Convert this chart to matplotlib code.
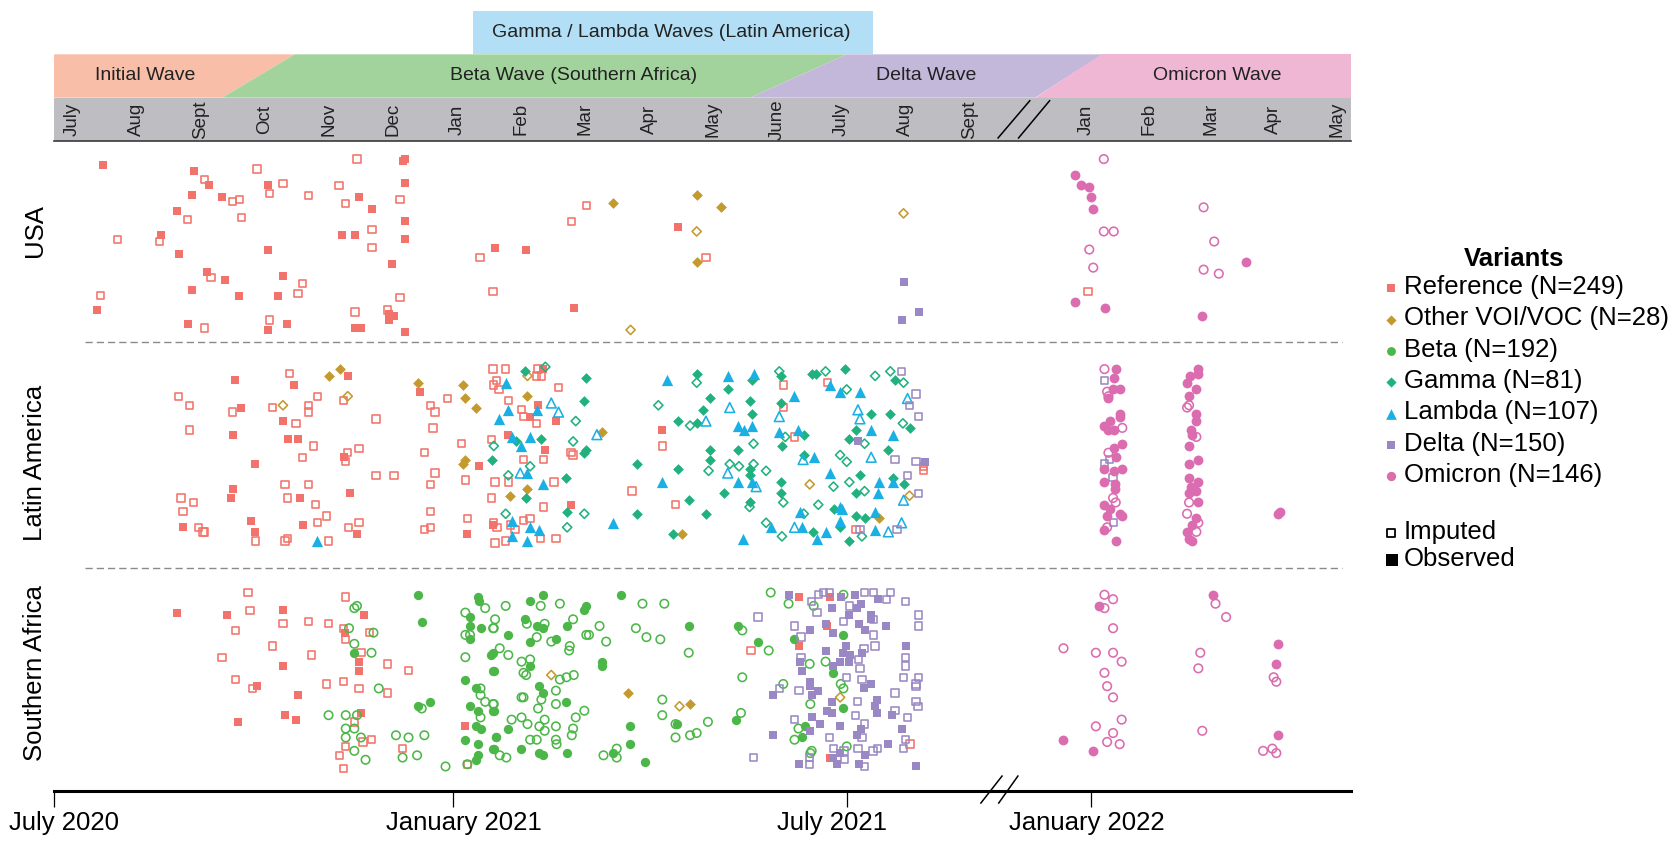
import numpy as np
import matplotlib
matplotlib.use("Agg")
import matplotlib.pyplot as plt
from matplotlib.patches import Polygon, Rectangle

plt.rcParams["font.family"] = ["Liberation Sans", "DejaVu Sans"]

# Each point: (t, y, observed)
#   t = months since July 2020 on the plotted axis (Oct-Dec 2021 cut out)
#   y = jitter position inside the region's row (0 bottom, 1 top)
#   observed = 1 filled marker, 0 imputed (open marker)

usa_reference = [
    (0.74, 0.88, 1), (0.97, 0.51, 0), (0.71, 0.23, 0), (0.65, 0.16, 1), (2.12, 0.85, 1), (2.28, 0.81, 0),
    (2.35, 0.78, 1), (2.09, 0.73, 1), (2.55, 0.72, 1), (2.71, 0.70, 0), (2.81, 0.71, 0), (1.86, 0.65, 1),
    (2.03, 0.61, 0), (2.84, 0.62, 0), (1.63, 0.53, 1), (1.60, 0.50, 0), (1.89, 0.44, 1), (2.32, 0.35, 1),
    (2.38, 0.32, 0), (2.59, 0.31, 1), (2.09, 0.26, 1), (2.81, 0.23, 1), (2.03, 0.09, 1), (2.28, 0.07, 0),
    (3.08, 0.86, 0), (3.24, 0.78, 1), (3.27, 0.74, 0), (3.47, 0.79, 0), (3.86, 0.73, 0), (3.24, 0.46, 1),
    (3.47, 0.33, 1), (3.77, 0.29, 0), (3.70, 0.24, 0), (3.40, 0.23, 1), (3.27, 0.11, 0), (3.53, 0.09, 1),
    (3.24, 0.06, 1), (4.59, 0.91, 0), (4.32, 0.78, 0), (4.62, 0.72, 1), (4.42, 0.69, 0), (4.82, 0.66, 1),
    (4.82, 0.56, 0), (4.36, 0.53, 1), (4.56, 0.53, 1), (4.82, 0.47, 0), (5.12, 0.39, 1), (4.56, 0.15, 0),
    (4.56, 0.07, 1), (4.65, 0.07, 1), (5.05, 0.16, 0), (5.08, 0.14, 1), (5.15, 0.13, 1), (5.08, 0.11, 1),
    (5.31, 0.91, 1), (5.28, 0.90, 1), (5.31, 0.79, 1), (5.24, 0.71, 0), (5.31, 0.60, 1), (5.31, 0.51, 1),
    (5.24, 0.22, 0), (5.31, 0.05, 1), (6.45, 0.42, 0), (6.68, 0.47, 1), (7.14, 0.46, 1), (6.65, 0.25, 0),
    (7.87, 0.17, 1), (7.84, 0.60, 0), (8.06, 0.68, 0), (9.44, 0.57, 1), (9.87, 0.42, 0), (15.65, 0.25, 0),
]
usa_other = [(8.46, 0.69, 1), (8.73, 0.06, 0), (9.73, 0.73, 1), (10.10, 0.67, 1), (9.73, 0.55, 0),
             (9.73, 0.40, 1), (12.86, 0.64, 0)]
usa_delta = [(12.86, 0.30, 1), (13.09, 0.15, 1), (12.83, 0.11, 1)]
usa_omicron = [
    (15.89, 0.91, 0), (15.45, 0.83, 1), (15.67, 0.77, 1), (15.54, 0.78, 1), (15.70, 0.72, 1), (15.73, 0.66, 1),
    (15.89, 0.55, 0), (16.04, 0.55, 0), (15.67, 0.46, 0), (15.73, 0.37, 0), (15.45, 0.20, 1), (15.91, 0.17, 1),
    (17.40, 0.67, 0), (17.56, 0.50, 0), (17.40, 0.36, 0), (17.63, 0.34, 0), (18.04, 0.40, 1), (17.37, 0.13, 1),
]

la_reference = [
    (1.89, 0.76, 0), (2.06, 0.72, 0), (2.06, 0.61, 0), (1.93, 0.31, 0), (2.12, 0.29, 0), (1.96, 0.25, 0),
    (1.96, 0.18, 1), (2.19, 0.18, 0), (2.26, 0.16, 0), (2.28, 0.16, 0), (2.75, 0.83, 1), (2.84, 0.71, 1),
    (2.71, 0.69, 0), (2.71, 0.59, 1), (3.05, 0.46, 1), (2.71, 0.35, 1), (2.68, 0.31, 1), (2.98, 0.21, 1),
    (3.05, 0.16, 1), (3.05, 0.12, 0), (3.57, 0.86, 0), (3.64, 0.81, 1), (3.31, 0.71, 0), (3.47, 0.65, 1),
    (3.67, 0.64, 0), (3.54, 0.57, 1), (3.70, 0.57, 1), (3.93, 0.54, 0), (3.77, 0.49, 0), (3.86, 0.72, 0),
    (3.86, 0.69, 0), (3.99, 0.76, 0), (4.46, 0.85, 1), (4.39, 0.74, 0), (4.39, 0.49, 1), (4.45, 0.51, 0),
    (4.42, 0.47, 0), (4.62, 0.53, 0), (4.49, 0.33, 1), (3.50, 0.37, 0), (3.86, 0.37, 0), (3.54, 0.31, 0),
    (3.73, 0.31, 1), (3.96, 0.28, 0), (4.13, 0.23, 0), (3.99, 0.20, 0), (3.77, 0.19, 1), (4.46, 0.18, 0),
    (4.62, 0.20, 0), (4.59, 0.15, 1), (4.16, 0.12, 0), (3.50, 0.12, 0), (3.54, 0.13, 0), (4.88, 0.66, 0),
    (4.88, 0.41, 0), (5.15, 0.41, 0), (5.54, 0.78, 1), (5.70, 0.72, 0), (5.77, 0.69, 0), (5.74, 0.62, 0),
    (5.96, 0.75, 0), (5.61, 0.51, 0), (6.17, 0.55, 0), (6.43, 0.45, 1), (5.77, 0.42, 0), (5.70, 0.37, 0),
    (6.23, 0.39, 0), (5.70, 0.25, 0), (5.61, 0.17, 0), (5.70, 0.18, 0), (6.26, 0.22, 0), (6.26, 0.15, 1),
    (6.65, 0.88, 0), (6.84, 0.88, 0), (7.31, 0.85, 0), (7.38, 0.85, 0), (7.41, 0.88, 1), (7.33, 0.88, 0),
    (6.70, 0.83, 0), (6.66, 0.81, 0), (6.74, 0.79, 0), (7.64, 0.80, 0), (6.88, 0.74, 0), (7.33, 0.72, 1),
    (7.08, 0.70, 0), (7.11, 0.67, 0), (7.21, 0.67, 1), (7.31, 0.64, 0), (7.60, 0.65, 1), (6.63, 0.57, 0),
    (6.88, 0.59, 1), (7.44, 0.52, 1), (7.83, 0.51, 0), (7.86, 0.50, 0), (7.11, 0.48, 0), (7.41, 0.48, 0),
    (6.68, 0.38, 0), (6.88, 0.38, 0), (7.57, 0.38, 0), (6.63, 0.31, 0), (7.41, 0.27, 0), (7.83, 0.28, 1),
    (6.66, 0.20, 0), (6.65, 0.19, 1), (6.71, 0.18, 0), (6.91, 0.19, 0), (6.98, 0.17, 0), (7.11, 0.21, 0),
    (7.21, 0.22, 0), (6.68, 0.11, 0), (6.84, 0.12, 0), (7.37, 0.13, 0), (7.60, 0.13, 0), (8.75, 0.34, 0),
    (9.21, 0.61, 1), (9.21, 0.54, 0), (9.41, 0.28, 0), (11.04, 0.81, 0), (11.04, 0.71, 0), (11.21, 0.58, 0),
    (11.71, 0.82, 0), (13.16, 0.45, 0), (13.16, 0.43, 0), (12.14, 0.17, 0),
]
la_other = [
    (3.47, 0.72, 0), (4.16, 0.85, 1), (4.33, 0.88, 1), (4.45, 0.76, 0), (5.51, 0.82, 1), (6.20, 0.81, 1),
    (6.23, 0.75, 1), (6.39, 0.71, 1), (6.23, 0.48, 1), (6.20, 0.46, 1), (7.17, 0.85, 0), (7.17, 0.76, 1),
    (8.30, 0.60, 1), (7.17, 0.35, 1), (6.91, 0.32, 1), (9.51, 0.15, 1), (11.44, 0.37, 0), (12.95, 0.32, 0),
    (12.49, 0.22, 1),
]
la_gamma = [
    (7.13, 0.87, 1), (7.44, 0.89, 0), (8.06, 0.84, 1), (8.03, 0.74, 1), (7.90, 0.65, 0), (6.66, 0.54, 0),
    (6.99, 0.56, 1), (7.37, 0.57, 1), (7.86, 0.56, 0), (8.03, 0.51, 1), (8.06, 0.52, 1), (6.63, 0.48, 1),
    (7.21, 0.45, 0), (6.88, 0.41, 0), (7.76, 0.40, 1), (7.15, 0.31, 1), (7.77, 0.25, 1), (8.03, 0.24, 0),
    (6.84, 0.24, 0), (7.77, 0.18, 0), (8.82, 0.46, 1), (8.82, 0.24, 1), (9.15, 0.72, 0), (9.44, 0.65, 1),
    (9.63, 0.63, 0), (9.73, 0.86, 1), (9.73, 0.82, 0), (9.83, 0.70, 1), (9.93, 0.75, 1), (9.74, 0.64, 1),
    (9.44, 0.44, 1), (9.61, 0.30, 1), (9.87, 0.24, 1), (9.37, 0.15, 1), (9.93, 0.52, 1), (9.93, 0.48, 1),
    (9.91, 0.43, 0), (10.14, 0.33, 1), (10.20, 0.79, 1), (10.53, 0.74, 1), (10.56, 0.68, 1), (10.56, 0.83, 1),
    (10.59, 0.55, 0), (10.36, 0.52, 1), (10.23, 0.46, 0), (10.37, 0.45, 0), (10.53, 0.44, 1), (10.59, 0.46, 0),
    (10.53, 0.41, 1), (10.78, 0.43, 0), (10.53, 0.29, 1), (10.53, 0.27, 0), (10.78, 0.20, 0), (11.02, 0.14, 0),
    (10.98, 0.87, 0), (11.01, 0.85, 1), (11.01, 0.73, 1), (11.35, 0.59, 1), (11.07, 0.58, 0), (11.02, 0.54, 1),
    (11.35, 0.50, 1), (11.00, 0.38, 1), (11.00, 0.33, 1), (11.04, 0.29, 0), (11.35, 0.24, 0), (11.49, 0.16, 1),
    (11.57, 0.28, 0), (11.80, 0.36, 0), (11.47, 0.86, 1), (11.54, 0.86, 1), (11.68, 0.87, 0), (11.98, 0.88, 1),
    (12.00, 0.79, 0), (12.43, 0.85, 0), (12.66, 0.87, 0), (12.73, 0.83, 1), (12.86, 0.82, 0), (12.37, 0.68, 1),
    (12.66, 0.68, 1), (12.85, 0.64, 0), (12.96, 0.62, 1), (12.14, 0.61, 1), (12.03, 0.57, 1), (12.27, 0.55, 0),
    (12.63, 0.52, 1), (11.90, 0.50, 0), (12.00, 0.47, 0), (12.20, 0.41, 1), (12.04, 0.38, 0), (12.86, 0.37, 1),
    (12.70, 0.40, 1), (12.27, 0.34, 0), (12.14, 0.33, 1), (11.81, 0.26, 1), (12.14, 0.23, 1), (12.28, 0.22, 1),
    (11.90, 0.18, 1), (12.23, 0.14, 0), (12.04, 0.12, 1),
]
la_lambda = [
    (3.99, 0.12, 1), (6.85, 0.82, 1), (6.88, 0.70, 1), (7.31, 0.70, 1), (7.53, 0.73, 0), (7.64, 0.69, 0),
    (6.74, 0.66, 1), (6.94, 0.58, 1), (7.07, 0.54, 1), (7.21, 0.58, 1), (8.22, 0.59, 0), (7.06, 0.42, 0),
    (7.17, 0.42, 1), (7.41, 0.37, 1), (6.94, 0.21, 1), (7.21, 0.18, 1), (7.34, 0.17, 1), (6.94, 0.14, 1),
    (7.17, 0.12, 1), (8.46, 0.20, 1), (9.28, 0.83, 1), (9.87, 0.65, 0), (9.21, 0.38, 1), (10.20, 0.85, 1),
    (10.23, 0.71, 0), (10.59, 0.86, 1), (10.36, 0.63, 1), (10.44, 0.61, 1), (10.56, 0.63, 1), (10.20, 0.42, 0),
    (10.36, 0.38, 1), (10.56, 0.38, 1), (10.63, 0.36, 0), (10.43, 0.13, 1), (10.85, 0.18, 1), (11.21, 0.76, 1),
    (10.98, 0.67, 0), (10.98, 0.60, 1), (11.27, 0.61, 1), (11.34, 0.48, 0), (11.50, 0.49, 1), (11.29, 0.25, 1),
    (11.32, 0.18, 1), (11.21, 0.18, 0), (11.55, 0.13, 1), (11.68, 0.16, 1), (11.74, 0.81, 1), (11.90, 0.78, 1),
    (12.20, 0.78, 1), (12.92, 0.75, 0), (12.17, 0.70, 0), (12.20, 0.66, 0), (12.36, 0.61, 1), (12.70, 0.59, 1),
    (12.37, 0.49, 0), (11.74, 0.42, 1), (12.49, 0.38, 1), (12.70, 0.38, 1), (12.47, 0.33, 1), (12.86, 0.30, 0),
    (11.90, 0.27, 1), (11.93, 0.26, 1), (12.43, 0.25, 1), (11.90, 0.21, 1), (12.83, 0.20, 0), (12.43, 0.17, 1),
    (12.63, 0.16, 0),
]
la_delta = [
    (12.83, 0.87, 0), (13.05, 0.77, 0), (12.95, 0.72, 0), (13.09, 0.67, 0), (12.17, 0.56, 1), (12.73, 0.48, 0),
    (13.05, 0.47, 0), (13.18, 0.47, 1), (12.92, 0.41, 0), (13.09, 0.33, 0), (12.76, 0.17, 0), (12.20, 0.17, 0),
    (15.90, 0.83, 0), (15.98, 0.48, 0), (15.90, 0.46, 0), (16.03, 0.40, 0), (16.04, 0.20, 0),
]
la_omicron = [
    (15.90, 0.88, 0), (16.07, 0.88, 1), (16.05, 0.84, 1), (16.03, 0.79, 1), (16.14, 0.79, 1), (15.94, 0.78, 0),
    (15.96, 0.75, 1), (15.96, 0.76, 0), (16.13, 0.68, 1), (16.14, 0.67, 1), (15.99, 0.65, 1), (15.90, 0.63, 1),
    (15.96, 0.61, 1), (16.04, 0.61, 1), (16.17, 0.62, 0), (16.17, 0.55, 1), (16.04, 0.53, 1), (15.96, 0.51, 0),
    (16.08, 0.49, 1), (15.90, 0.44, 1), (16.17, 0.44, 1), (16.04, 0.43, 1), (15.90, 0.38, 1), (16.06, 0.37, 1),
    (16.06, 0.35, 1), (16.03, 0.31, 0), (16.07, 0.29, 0), (15.90, 0.28, 1), (15.99, 0.26, 1), (16.14, 0.24, 1),
    (16.17, 0.23, 1), (15.94, 0.23, 1), (15.94, 0.18, 0), (15.90, 0.17, 1), (16.07, 0.12, 1),
    (17.32, 0.88, 1), (17.32, 0.86, 1), (17.19, 0.85, 1), (17.15, 0.82, 1), (17.29, 0.79, 1), (17.18, 0.76, 1),
    (17.18, 0.72, 0), (17.15, 0.71, 0), (17.29, 0.68, 1), (17.29, 0.65, 1), (17.21, 0.61, 1), (17.22, 0.59, 1),
    (17.29, 0.58, 0), (17.18, 0.54, 1), (17.18, 0.46, 1), (17.32, 0.48, 1), (17.18, 0.40, 1), (17.32, 0.38, 1),
    (17.21, 0.36, 1), (17.29, 0.34, 1), (17.18, 0.33, 1), (17.18, 0.29, 0), (17.32, 0.29, 1), (17.15, 0.24, 0),
    (17.29, 0.22, 1), (17.32, 0.20, 0), (17.22, 0.19, 1), (17.29, 0.16, 0), (17.15, 0.16, 1), (17.18, 0.13, 1),
    (17.22, 0.12, 1), (18.53, 0.24, 1), (18.55, 0.25, 1),
]

sa_reference = [
    (1.86, 0.80, 1), (2.62, 0.79, 1), (2.94, 0.89, 0), (2.97, 0.81, 0), (2.75, 0.72, 0), (3.31, 0.65, 0),
    (2.55, 0.60, 0), (3.47, 0.81, 1), (3.47, 0.75, 0), (3.86, 0.76, 0), (4.16, 0.75, 0), (3.90, 0.61, 0),
    (3.47, 0.56, 1), (2.75, 0.50, 0), (3.01, 0.46, 0), (3.08, 0.47, 1), (3.70, 0.43, 1), (2.79, 0.31, 1),
    (3.50, 0.34, 1), (3.67, 0.32, 1), (4.42, 0.87, 0), (4.69, 0.79, 1), (4.39, 0.73, 0), (4.41, 0.71, 1),
    (4.42, 0.68, 0), (4.78, 0.71, 0), (4.65, 0.62, 0), (4.62, 0.58, 1), (4.62, 0.54, 1), (5.05, 0.57, 0),
    (5.37, 0.54, 0), (4.13, 0.48, 0), (4.39, 0.49, 0), (4.62, 0.46, 0), (5.05, 0.44, 0), (4.65, 0.35, 1),
    (4.55, 0.31, 0), (4.68, 0.22, 0), (4.81, 0.23, 0), (4.42, 0.20, 0), (4.33, 0.16, 0), (4.39, 0.10, 0),
    (5.28, 0.19, 0), (6.23, 0.29, 1), (6.26, 0.12, 0), (10.55, 0.63, 0), (11.28, 0.87, 1), (11.74, 0.87, 1),
    (11.70, 0.74, 1), (11.28, 0.65, 1), (12.96, 0.21, 0), (11.74, 0.15, 1),
]
sa_other = [(7.53, 0.52, 0), (8.69, 0.44, 1), (9.47, 0.38, 0), (9.63, 0.39, 1), (11.90, 0.42, 0)]
sa_beta = [
    (4.55, 0.82, 0), (4.59, 0.83, 0), (4.47, 0.73, 0), (4.84, 0.71, 0), (4.55, 0.66, 0), (4.55, 0.62, 1),
    (4.81, 0.62, 0), (4.92, 0.46, 0), (4.16, 0.34, 0), (4.42, 0.34, 0), (4.59, 0.34, 0), (4.42, 0.28, 0),
    (4.55, 0.28, 0), (4.42, 0.24, 0), (4.65, 0.24, 0), (4.55, 0.18, 0), (4.72, 0.14, 0), (5.18, 0.25, 0),
    (5.37, 0.24, 0), (5.61, 0.25, 0), (5.28, 0.15, 0), (5.50, 0.16, 0), (5.93, 0.11, 0), (5.51, 0.88, 1),
    (5.57, 0.76, 1), (5.51, 0.38, 1), (5.57, 0.37, 0), (5.70, 0.40, 1), (6.42, 0.87, 1), (6.43, 0.85, 1),
    (6.53, 0.82, 0), (6.23, 0.80, 0), (6.30, 0.78, 1), (6.30, 0.74, 1), (6.46, 0.73, 1), (6.23, 0.70, 0),
    (6.30, 0.70, 0), (6.30, 0.68, 1), (6.23, 0.60, 0), (6.62, 0.61, 1), (6.66, 0.54, 1), (6.65, 0.73, 0),
    (6.23, 0.50, 1), (6.39, 0.46, 1), (6.46, 0.46, 0), (6.46, 0.43, 0), (6.53, 0.40, 0), (6.30, 0.38, 1),
    (6.42, 0.36, 1), (6.46, 0.33, 0), (6.66, 0.36, 1), (6.66, 0.39, 0), (6.39, 0.29, 1), (6.46, 0.28, 1),
    (6.23, 0.23, 1), (6.42, 0.21, 1), (6.69, 0.24, 1), (6.66, 0.19, 1), (6.42, 0.16, 1), (6.39, 0.14, 1),
    (6.26, 0.12, 0), (7.41, 0.88, 1), (7.21, 0.85, 1), (6.84, 0.83, 0), (7.37, 0.83, 0), (7.66, 0.84, 0),
    (8.06, 0.83, 1), (8.03, 0.81, 1), (6.68, 0.77, 0), (7.13, 0.77, 1), (7.31, 0.74, 1), (7.43, 0.75, 0),
    (7.41, 0.73, 1), (7.77, 0.74, 1), (7.86, 0.77, 0), (7.16, 0.75, 0), (6.66, 0.73, 0), (6.88, 0.70, 1),
    (7.31, 0.69, 0), (7.60, 0.68, 1), (7.53, 0.67, 0), (7.21, 0.67, 1), (8.06, 0.70, 0), (8.10, 0.70, 0),
    (8.26, 0.74, 0), (8.36, 0.67, 0), (7.81, 0.65, 0), (7.80, 0.63, 0), (6.75, 0.64, 0), (6.88, 0.61, 0),
    (6.65, 0.62, 1), (6.65, 0.54, 1), (7.08, 0.58, 0), (7.21, 0.59, 0), (7.21, 0.56, 1), (7.11, 0.53, 0),
    (7.15, 0.52, 0), (7.66, 0.50, 0), (7.76, 0.51, 0), (7.87, 0.52, 0), (8.29, 0.58, 1), (8.30, 0.56, 1),
    (7.35, 0.47, 1), (7.41, 0.44, 1), (7.60, 0.45, 0), (6.65, 0.39, 0), (6.65, 0.36, 1), (7.08, 0.42, 0),
    (7.11, 0.42, 0), (7.38, 0.41, 0), (7.60, 0.39, 0), (7.33, 0.37, 0), (7.76, 0.40, 1), (8.03, 0.36, 0),
    (6.93, 0.32, 0), (6.88, 0.28, 1), (7.08, 0.33, 0), (7.17, 0.30, 0), (7.35, 0.29, 0), (7.43, 0.32, 0),
    (7.43, 0.27, 0), (7.60, 0.29, 0), (7.90, 0.33, 0), (7.86, 0.28, 0), (7.84, 0.25, 0), (6.69, 0.24, 1),
    (7.21, 0.23, 0), (7.31, 0.23, 0), (7.60, 0.23, 0), (7.61, 0.21, 0), (6.65, 0.19, 1), (7.07, 0.19, 1),
    (7.35, 0.17, 1), (7.41, 0.16, 1), (7.77, 0.17, 1), (6.75, 0.16, 0), (6.85, 0.15, 0), (8.32, 0.16, 0),
    (8.52, 0.19, 0), (8.52, 0.15, 0), (8.46, 0.17, 1), (8.59, 0.88, 1), (8.81, 0.73, 0), (8.97, 0.69, 0),
    (9.18, 0.68, 0), (8.91, 0.84, 0), (9.24, 0.84, 0), (9.61, 0.74, 1), (9.61, 0.62, 0), (9.21, 0.41, 0),
    (9.21, 0.34, 0), (9.43, 0.30, 1), (9.41, 0.30, 0), (9.41, 0.24, 0), (9.63, 0.25, 0), (9.73, 0.26, 0),
    (9.90, 0.31, 0), (8.72, 0.29, 1), (8.72, 0.21, 1), (8.95, 0.13, 1), (10.35, 0.74, 1), (10.42, 0.72, 0),
    (10.85, 0.89, 0), (10.66, 0.67, 1), (10.82, 0.63, 0), (10.42, 0.51, 0), (10.40, 0.35, 0), (10.33, 0.32, 1),
    (11.12, 0.84, 0), (11.50, 0.83, 0), (11.95, 0.88, 0), (11.94, 0.70, 1), (11.21, 0.68, 1), (11.44, 0.57, 0),
    (11.68, 0.58, 0), (11.80, 0.53, 1), (11.04, 0.48, 0), (11.91, 0.48, 0), (11.95, 0.46, 0), (11.45, 0.39, 0),
    (11.94, 0.37, 1), (11.37, 0.29, 1), (11.27, 0.28, 0), (11.21, 0.23, 0), (11.32, 0.24, 1), (12.00, 0.20, 0),
    (11.47, 0.18, 0), (11.45, 0.17, 0),
]
sa_delta = [
    (10.66, 0.78, 0), (10.59, 0.15, 0), (11.12, 0.88, 1), (11.47, 0.85, 0), (11.57, 0.88, 0), (11.65, 0.89, 0),
    (11.74, 0.89, 0), (11.91, 0.87, 1), (12.13, 0.88, 1), (12.27, 0.89, 0), (12.41, 0.89, 0), (12.66, 0.89, 0),
    (12.60, 0.86, 0), (12.47, 0.86, 1), (12.89, 0.85, 0), (12.22, 0.84, 1), (12.04, 0.83, 0), (11.78, 0.82, 1),
    (11.55, 0.80, 0), (12.16, 0.82, 1), (12.04, 0.79, 1), (12.36, 0.79, 1), (13.09, 0.79, 0), (12.36, 0.77, 1),
    (12.41, 0.77, 0), (11.95, 0.76, 0), (12.18, 0.75, 1), (11.68, 0.75, 1), (12.59, 0.74, 1), (13.09, 0.74, 0),
    (11.21, 0.74, 0), (11.44, 0.72, 1), (11.80, 0.71, 1), (12.28, 0.72, 1), (12.41, 0.70, 0), (11.31, 0.69, 0),
    (11.99, 0.65, 1), (12.26, 0.64, 0), (12.43, 0.65, 0), (12.89, 0.65, 1), (11.68, 0.63, 1), (11.95, 0.62, 1),
    (12.23, 0.62, 1), (12.05, 0.61, 1), (12.89, 0.60, 0), (11.31, 0.60, 0), (11.29, 0.58, 1), (11.90, 0.58, 1),
    (12.03, 0.58, 1), (11.80, 0.56, 1), (12.18, 0.59, 0), (12.89, 0.56, 0), (12.20, 0.55, 0), (11.32, 0.54, 1),
    (12.00, 0.51, 0), (12.23, 0.50, 0), (13.09, 0.51, 0), (12.86, 0.51, 0), (12.36, 0.48, 1), (11.45, 0.49, 1),
    (11.45, 0.47, 1), (10.98, 0.46, 0), (10.88, 0.43, 1), (11.28, 0.45, 0), (11.56, 0.45, 1), (11.47, 0.43, 1),
    (13.05, 0.48, 0), (13.05, 0.47, 0), (12.26, 0.46, 1), (12.73, 0.44, 0), (11.78, 0.40, 1), (12.16, 0.40, 0),
    (12.46, 0.41, 1), (12.43, 0.38, 1), (13.05, 0.40, 0), (13.08, 0.38, 0), (11.70, 0.36, 1), (11.78, 0.35, 1),
    (12.13, 0.34, 0), (12.46, 0.35, 1), (12.73, 0.36, 0), (12.69, 0.34, 1), (12.92, 0.33, 0), (11.47, 0.33, 1),
    (11.21, 0.32, 0), (11.59, 0.30, 1), (11.44, 0.27, 1), (11.90, 0.29, 1), (12.27, 0.30, 0), (12.22, 0.28, 1),
    (12.16, 0.25, 1), (12.83, 0.28, 1), (12.23, 0.24, 0), (10.88, 0.25, 1), (11.74, 0.24, 0), (12.89, 0.23, 0),
    (12.63, 0.21, 1), (11.80, 0.19, 0), (11.96, 0.18, 0), (12.17, 0.19, 0), (12.40, 0.18, 0), (12.47, 0.19, 0),
    (12.86, 0.19, 0), (11.44, 0.15, 0), (11.44, 0.12, 0), (11.90, 0.17, 1), (11.97, 0.14, 0), (11.80, 0.15, 1),
    (12.27, 0.16, 1), (12.18, 0.12, 1), (12.27, 0.11, 0), (11.28, 0.12, 1), (13.05, 0.11, 1), (11.85, 0.12, 1),
]
sa_omicron = [
    (15.90, 0.88, 0), (16.03, 0.86, 0), (15.81, 0.83, 1), (15.90, 0.82, 0), (16.03, 0.73, 0), (15.28, 0.64, 0),
    (15.77, 0.62, 0), (16.03, 0.62, 0), (16.16, 0.58, 0), (15.90, 0.53, 0), (15.94, 0.47, 0), (16.03, 0.42, 0),
    (16.16, 0.32, 0), (15.77, 0.29, 0), (16.03, 0.26, 0), (15.94, 0.22, 0), (16.13, 0.21, 0), (15.28, 0.23, 1),
    (15.73, 0.18, 1), (17.54, 0.88, 1), (17.58, 0.84, 0), (17.74, 0.78, 0), (17.35, 0.62, 0), (17.32, 0.55, 0),
    (17.38, 0.27, 0), (18.53, 0.66, 1), (18.50, 0.57, 1), (18.46, 0.51, 0), (18.50, 0.49, 0), (18.53, 0.25, 1),
    (18.30, 0.18, 0), (18.44, 0.19, 0), (18.50, 0.17, 0),
]

variant_names = ["Reference", "Other VOI/VOC", "Beta", "Gamma", "Lambda", "Delta", "Omicron"]
variant_counts = [249, 28, 192, 81, 107, 150, 146]
region_names = ["USA", "Latin America", "Southern Africa"]

tick_pos = [0, 6.05, 12.0, 15.69]
tick_labels = ["July 2020", "January 2021", "July 2021", "January 2022"]
tick_label_pos = [0.16, 6.21, 11.77, 15.63]
months_a = ["July", "Aug", "Sept", "Oct", "Nov", "Dec", "Jan", "Feb", "Mar", "Apr", "May", "June",
            "July", "Aug", "Sept"]
months_b = ["Jan", "Feb", "Mar", "Apr", "May"]

wave_names = ["Initial Wave", "Beta Wave (Southern Africa)", "Delta Wave", "Omicron Wave"]
wave_bounds = [0, (2.55, 3.65), (10.54, 12.0), (14.85, 15.87), 19.63]
gamma_span = (6.35, 12.40)

# marker, color, filled size, open size
style = {
    "Reference": ("s", "#F2736B", 36, 28),
    "Other VOI/VOC": ("D", "#C49A2F", 30, 22),
    "Beta": ("o", "#4CB748", 45, 37),
    "Gamma": ("D", "#21B17F", 30, 22),
    "Lambda": ("^", "#1BB0E4", 66, 50),
    "Delta": ("s", "#9A88C4", 36, 28),
    "Omicron": ("o", "#DA6CAF", 50, 38),
}

W, H = 1681, 847
XMAX = 19.63
fig = plt.figure(figsize=(W / 100, H / 100), dpi=100)


def box(x0, y0, x1, y1):
    return [x0 / W, 1 - y1 / H, (x1 - x0) / W, (y1 - y0) / H]


def draw(ax, pts, variant):
    marker, color, s_fill, s_open = style[variant]
    arr = np.array(pts)
    obs = arr[:, 2] == 1
    if (~obs).any():
        ax.scatter(arr[~obs, 0], arr[~obs, 1], marker=marker, s=s_open, facecolors="none",
                   edgecolors=color, linewidths=1.15, clip_on=False, zorder=3)
    if obs.any():
        ax.scatter(arr[obs, 0], arr[obs, 1], marker=marker, s=s_fill, color=color,
                   linewidths=0, clip_on=False, zorder=3)


rows = [
    (box(53.6, 141, 1351, 342), [(usa_reference, "Reference"), (usa_other, "Other VOI/VOC"),
                                 (usa_delta, "Delta"), (usa_omicron, "Omicron")]),
    (box(53.6, 342, 1351, 568), [(la_reference, "Reference"), (la_other, "Other VOI/VOC"),
                                 (la_gamma, "Gamma"), (la_lambda, "Lambda"),
                                 (la_delta, "Delta"), (la_omicron, "Omicron")]),
    (box(53.6, 568, 1351, 791), [(sa_reference, "Reference"), (sa_other, "Other VOI/VOC"),
                                 (sa_beta, "Beta"), (sa_delta, "Delta"), (sa_omicron, "Omicron")]),
]
axes = []
for rect, groups in rows:
    ax = fig.add_axes(rect)
    ax.set_xlim(0, XMAX)
    ax.set_ylim(0, 1)
    ax.patch.set_alpha(0)
    for sp in ax.spines.values():
        sp.set_visible(False)
    ax.set_xticks([])
    ax.set_yticks([])
    for pts, variant in groups:
        draw(ax, pts, variant)
    axes.append(ax)

# dashed separators between rows
for ax in axes[1:]:
    for seg in [(0.475, 14.35), (14.38, 19.49)]:
        ax.plot(seg, [1, 1], color="#8a8a8a", lw=1.0, dashes=(5.2, 2.9), clip_on=False, zorder=1)

# bottom time axis
ax_sa = axes[2]
ax_sa.spines["bottom"].set_visible(True)
ax_sa.spines["bottom"].set_linewidth(2.2)
ax_sa.set_xticks(tick_pos)
ax_sa.set_xticklabels([])
ax_sa.tick_params(axis="x", direction="out", length=11.5, width=0.9)
for x, lab in zip(tick_label_pos, tick_labels):
    ax_sa.text(x, -0.145, lab, ha="center", va="center", fontsize=18.5)
for x0, x1 in [(14.03, 14.35), (14.30, 14.59)]:
    ax_sa.plot([x0, x1], [-0.054, 0.067], color="black", lw=1.1, clip_on=False, zorder=5)

# row labels
for name, ypix in zip(region_names, [230.5, 463, 673]):
    fig.text(35 / W, 1 - ypix / H, name, rotation=90, ha="center", va="center", fontsize=18.5)

# month and wave bands
ax_top = fig.add_axes(box(53.6, 11, 1351, 141))
ax_top.set_xlim(0, XMAX)
ax_top.set_ylim(0, 3)
ax_top.axis("off")
ax_top.add_patch(Rectangle((0, 0), XMAX, 1, color="#BEBEC2", lw=0))
wave_colors = ["#F9BEA8", "#A3D39C", "#C4B8DA", "#F0B7D5"]
b = wave_bounds
polys = [
    [(0, 1), (b[1][0], 1), (b[1][1], 2), (0, 2)],
    [(b[1][0], 1), (b[2][0], 1), (b[2][1], 2), (b[1][1], 2)],
    [(b[2][0], 1), (b[3][0], 1), (b[3][1], 2), (b[2][1], 2)],
    [(b[3][0], 1), (b[4], 1), (b[4], 2), (b[3][1], 2)],
]
for poly, col in zip(polys, wave_colors):
    ax_top.add_patch(Polygon(poly, closed=True, color=col, lw=0))
for name, xc in zip(wave_names, [1.38, 7.87, 13.21, 17.6]):
    ax_top.text(xc, 1.5, name, ha="center", va="center", fontsize=14, color="#222222")
ax_top.add_patch(Rectangle((gamma_span[0], 2), gamma_span[1] - gamma_span[0], 1, color="#B2DFF5", lw=0))
ax_top.text(sum(gamma_span) / 2 - 0.03, 2.5, "Gamma / Lambda Waves (Latin America)", ha="center",
            va="center", fontsize=14, color="#222222")
ax_top.plot([0, XMAX], [0, 0], color="#3a3a3a", lw=1.2, clip_on=False)
for i, m in enumerate(months_a):
    ax_top.text(0.28 + 0.97 * i, 0.5, m, rotation=90, ha="center", va="center", fontsize=13.5,
                color="#222222")
for i, m in enumerate(months_b):
    ax_top.text(15.62 + 0.948 * i, 0.5, m, rotation=90, ha="center", va="center", fontsize=13.5,
                color="#222222")
for x0, x1 in [(14.29, 14.77), (14.60, 15.07)]:
    ax_top.plot([x0, x1], [0.07, 0.93], color="black", lw=1.1)

# legend (manual layout in pixel space)
ax_leg = fig.add_axes([0, 0, 1, 1])
ax_leg.set_xlim(0, W)
ax_leg.set_ylim(H, 0)
ax_leg.axis("off")
ax_leg.text(1514, 259, "Variants", ha="center", va="center", fontsize=18.5, fontweight="bold")
for i, (name, n) in enumerate(zip(variant_names, variant_counts)):
    yy = 287 + 31.3 * i
    marker, color, s_fill, _ = style[name]
    ax_leg.scatter([1391], [yy + 1.5], marker=marker, s=s_fill * 0.9, color=color, linewidths=0)
    ax_leg.text(1404, yy, f"{name} (N={n})", ha="left", va="center", fontsize=18.5)
ax_leg.scatter([1391], [533], marker="s", s=40, facecolors="none", edgecolors="black", linewidths=1.3)
ax_leg.text(1404, 532, "Imputed", ha="left", va="center", fontsize=18.5)
ax_leg.scatter([1392], [560], marker="s", s=70, color="black", linewidths=0)
ax_leg.text(1404, 559, "Observed", ha="left", va="center", fontsize=18.5)

fig.savefig("out.png", dpi=100)
